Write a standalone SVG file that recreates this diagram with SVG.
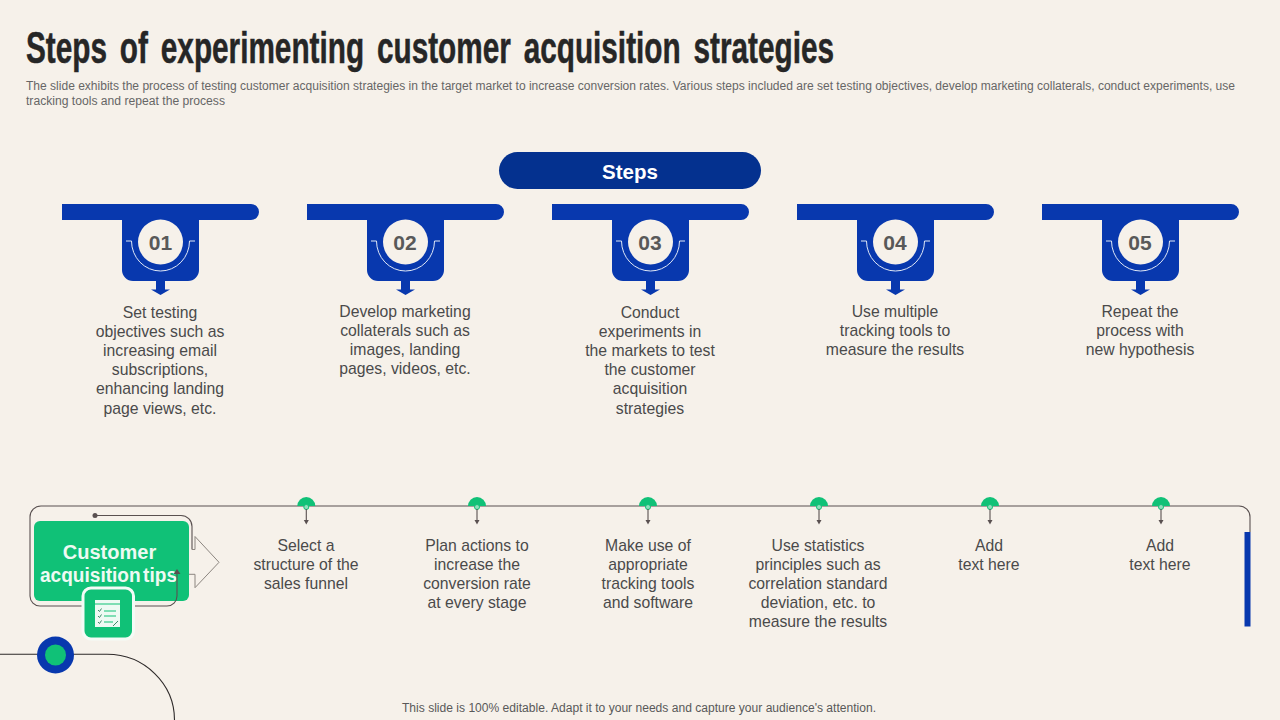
<svg xmlns="http://www.w3.org/2000/svg" width="1280" height="720" viewBox="0 0 1280 720">
<style>
text{font-family:"Liberation Sans",Arial,sans-serif;fill:#4a4a4a}
.title{font-size:45px;font-weight:700;fill:#262626;stroke:#262626;stroke-width:.5;word-spacing:7px}
.sub{font-size:12px;fill:#666}
.body{font-size:15.750px;text-anchor:middle}
.num{font-size:21px;font-weight:700;text-anchor:middle;fill:#595959}
.line{fill:none;stroke:#595050;stroke-width:1.100}
.blue{fill:#0838ae}
.green{fill:#10c177}
</style>
<defs>
<g id="badge">
<path class="blue" d="M0 0H189a8 8 0 0 1 0 16H137V66a11 11 0 0 1-11 11H71a11 11 0 0 1-11-11V16H0Z"/>
<path class="blue" d="M94 77h9v8.500h5l-9.500 5.500l-9.500-5.500h5z"/>
<circle cx="98.500" cy="38" r="22.500" fill="#f6f1ea"/>
<path d="M64 37h5.500a29 30 0 0 0 58 0h5.500" fill="none" stroke="#dfe7f6" stroke-width="1"/>
</g>
<g id="tick">
<path class="green" d="M-9 0a9 9 0 0 1 18 0z"/>
<circle cy="1" r="2.500" fill="#8fe0bd" stroke="#10c177"/>
<path d="M0 3V16" stroke="#595050" stroke-width="1.100"/>
<path d="M-2.500 14h5L0 18.500z" fill="#595050"/>
</g>
</defs>
<rect width="1280" height="720" fill="#f6f1ea"/>
<g id="header">
<text class="title" x="26" y="63" textLength="808" lengthAdjust="spacingAndGlyphs">Steps of experimenting customer acquisition strategies</text>
<text class="sub" x="26" y="90" textLength="1209" lengthAdjust="spacingAndGlyphs">The slide exhibits the process of testing customer acquisition strategies in the target market to increase conversion rates. Various steps included are set testing objectives, develop marketing collaterals, conduct experiments, use</text>
<text class="sub" x="26" y="105" textLength="199" lengthAdjust="spacingAndGlyphs">tracking tools and repeat the process</text>
</g>
<g id="steps-pill">
<rect x="499" y="152" width="262" height="37" rx="18.500" fill="#04318f"/>
<text x="630" y="178.500" text-anchor="middle" font-size="20.500" font-weight="700" style="fill:#fff">Steps</text>
</g>
<g id="step-1">
<use href="#badge" x="62" y="204"/>
<text class="num" x="160.500" y="250">01</text>
<text class="body"><tspan x="160" y="318">Set testing</tspan><tspan x="160" y="337">objectives such as</tspan><tspan x="160" y="356">increasing email</tspan><tspan x="160" y="375">subscriptions,</tspan><tspan x="160" y="394">enhancing landing</tspan><tspan x="160" y="414">page views, etc.</tspan></text>
</g>
<g id="step-2">
<use href="#badge" x="307" y="204"/>
<text class="num" x="405" y="250">02</text>
<text class="body"><tspan x="405" y="317">Develop marketing</tspan><tspan x="405" y="336">collaterals such as</tspan><tspan x="405" y="355">images, landing</tspan><tspan x="405" y="374">pages, videos, etc.</tspan></text>
</g>
<g id="step-3">
<use href="#badge" x="552" y="204"/>
<text class="num" x="650" y="250">03</text>
<text class="body"><tspan x="650" y="318">Conduct</tspan><tspan x="650" y="337">experiments in</tspan><tspan x="650" y="356">the markets to test</tspan><tspan x="650" y="375">the customer</tspan><tspan x="650" y="394">acquisition</tspan><tspan x="650" y="414">strategies</tspan></text>
</g>
<g id="step-4">
<use href="#badge" x="797" y="204"/>
<text class="num" x="895" y="250">04</text>
<text class="body"><tspan x="895" y="317">Use multiple</tspan><tspan x="895" y="336">tracking tools to</tspan><tspan x="895" y="355">measure the results</tspan></text>
</g>
<g id="step-5">
<use href="#badge" x="1042" y="204"/>
<text class="num" x="1140" y="250">05</text>
<text class="body"><tspan x="1140" y="317">Repeat the</tspan><tspan x="1140" y="336">process with</tspan><tspan x="1140" y="355">new hypothesis</tspan></text>
</g>
<g id="tips-box">
<rect x="34" y="521" width="155" height="80" rx="6" class="green"/>
<text x="109.500" y="559" text-anchor="middle" font-size="20" font-weight="700" style="fill:#eefaf3">Customer</text>
<text x="108.500" y="582" text-anchor="middle" font-size="20" font-weight="700" style="fill:#eefaf3;word-spacing:-3px" textLength="137" lengthAdjust="spacingAndGlyphs">acquisition tips</text>
</g>
<g id="connectors">
<path class="line" d="M1250 532V517a11 11 0 0 0-11-11H41a11 11 0 0 0-11 11V596a10 10 0 0 0 10 10H167a10 10 0 0 0 10-10V573"/>
<path d="M173.500 574h7l-3.500-5z" fill="#595050"/>
<path class="line" d="M95 515.500H181a11 11 0 0 1 11 11V549.500"/>
<circle cx="95" cy="515.500" r="2.500" fill="#595050"/>
<path d="M192 549.500h3V536.500l24 25.800l-24 25.400V574.300h-6" fill="none" stroke="#8c8680" stroke-width="1"/>
<path d="M0 654.300H107A67.500 65.700 0 0 1 174.500 720" fill="none" stroke="#2e2a2a" stroke-width="1.100"/>
<rect x="1244.500" y="532" width="6" height="94.500" fill="#0838ae"/>
</g>
<g id="tips-icon">
<rect x="83" y="588" width="50.500" height="51" rx="8" class="green" stroke="#f4fbf6" stroke-width="3"/>
<path d="M95 600h25v27h-25z" fill="#eefaf3"/>
<path d="M95 604h25M104 611h12M104 616h12M104 622h9" stroke="#10c177" stroke-width="1.200" fill="none"/>
<path d="M98 610l1.500 1.500l2-3M98 616l1.500 1.500l2-3M98 622l1.500 1.500l2-3M113 626l5-5" stroke="#2e7d5a" stroke-width="0.900" fill="none"/>
</g>
<g id="dot">
<circle cx="55.500" cy="655" r="18.500" fill="#0838ae"/>
<circle cx="55.500" cy="655" r="10.500" class="green"/>
</g>
<g id="tip-1">
<use href="#tick" x="306.300" y="506"/>
<text class="body"><tspan x="306" y="551">Select a</tspan><tspan x="306" y="570">structure  of the</tspan><tspan x="306" y="589">sales funnel</tspan></text>
</g>
<g id="tip-2">
<use href="#tick" x="477" y="506"/>
<text class="body"><tspan x="477" y="551">Plan actions to</tspan><tspan x="477" y="570">increase the</tspan><tspan x="477" y="589">conversion rate</tspan><tspan x="477" y="608">at every stage</tspan></text>
</g>
<g id="tip-3">
<use href="#tick" x="648" y="506"/>
<text class="body"><tspan x="648" y="551">Make use of</tspan><tspan x="648" y="570">appropriate</tspan><tspan x="648" y="589">tracking tools</tspan><tspan x="648" y="608">and software</tspan></text>
</g>
<g id="tip-4">
<use href="#tick" x="819" y="506"/>
<text class="body"><tspan x="818" y="551">Use statistics</tspan><tspan x="818" y="570">principles such as</tspan><tspan x="818" y="589">correlation standard</tspan><tspan x="818" y="608">deviation, etc. to</tspan><tspan x="818" y="627">measure the results</tspan></text>
</g>
<g id="tip-5">
<use href="#tick" x="990" y="506"/>
<text class="body"><tspan x="989" y="551">Add</tspan><tspan x="989" y="570">text here</tspan></text>
</g>
<g id="tip-6">
<use href="#tick" x="1161" y="506"/>
<text class="body"><tspan x="1160" y="551">Add</tspan><tspan x="1160" y="570">text here</tspan></text>
</g>
<text x="639" y="712" text-anchor="middle" font-size="12" style="fill:#595959" textLength="474" lengthAdjust="spacingAndGlyphs">This slide is 100% editable. Adapt it to your needs and capture your audience's attention.</text>
</svg>
